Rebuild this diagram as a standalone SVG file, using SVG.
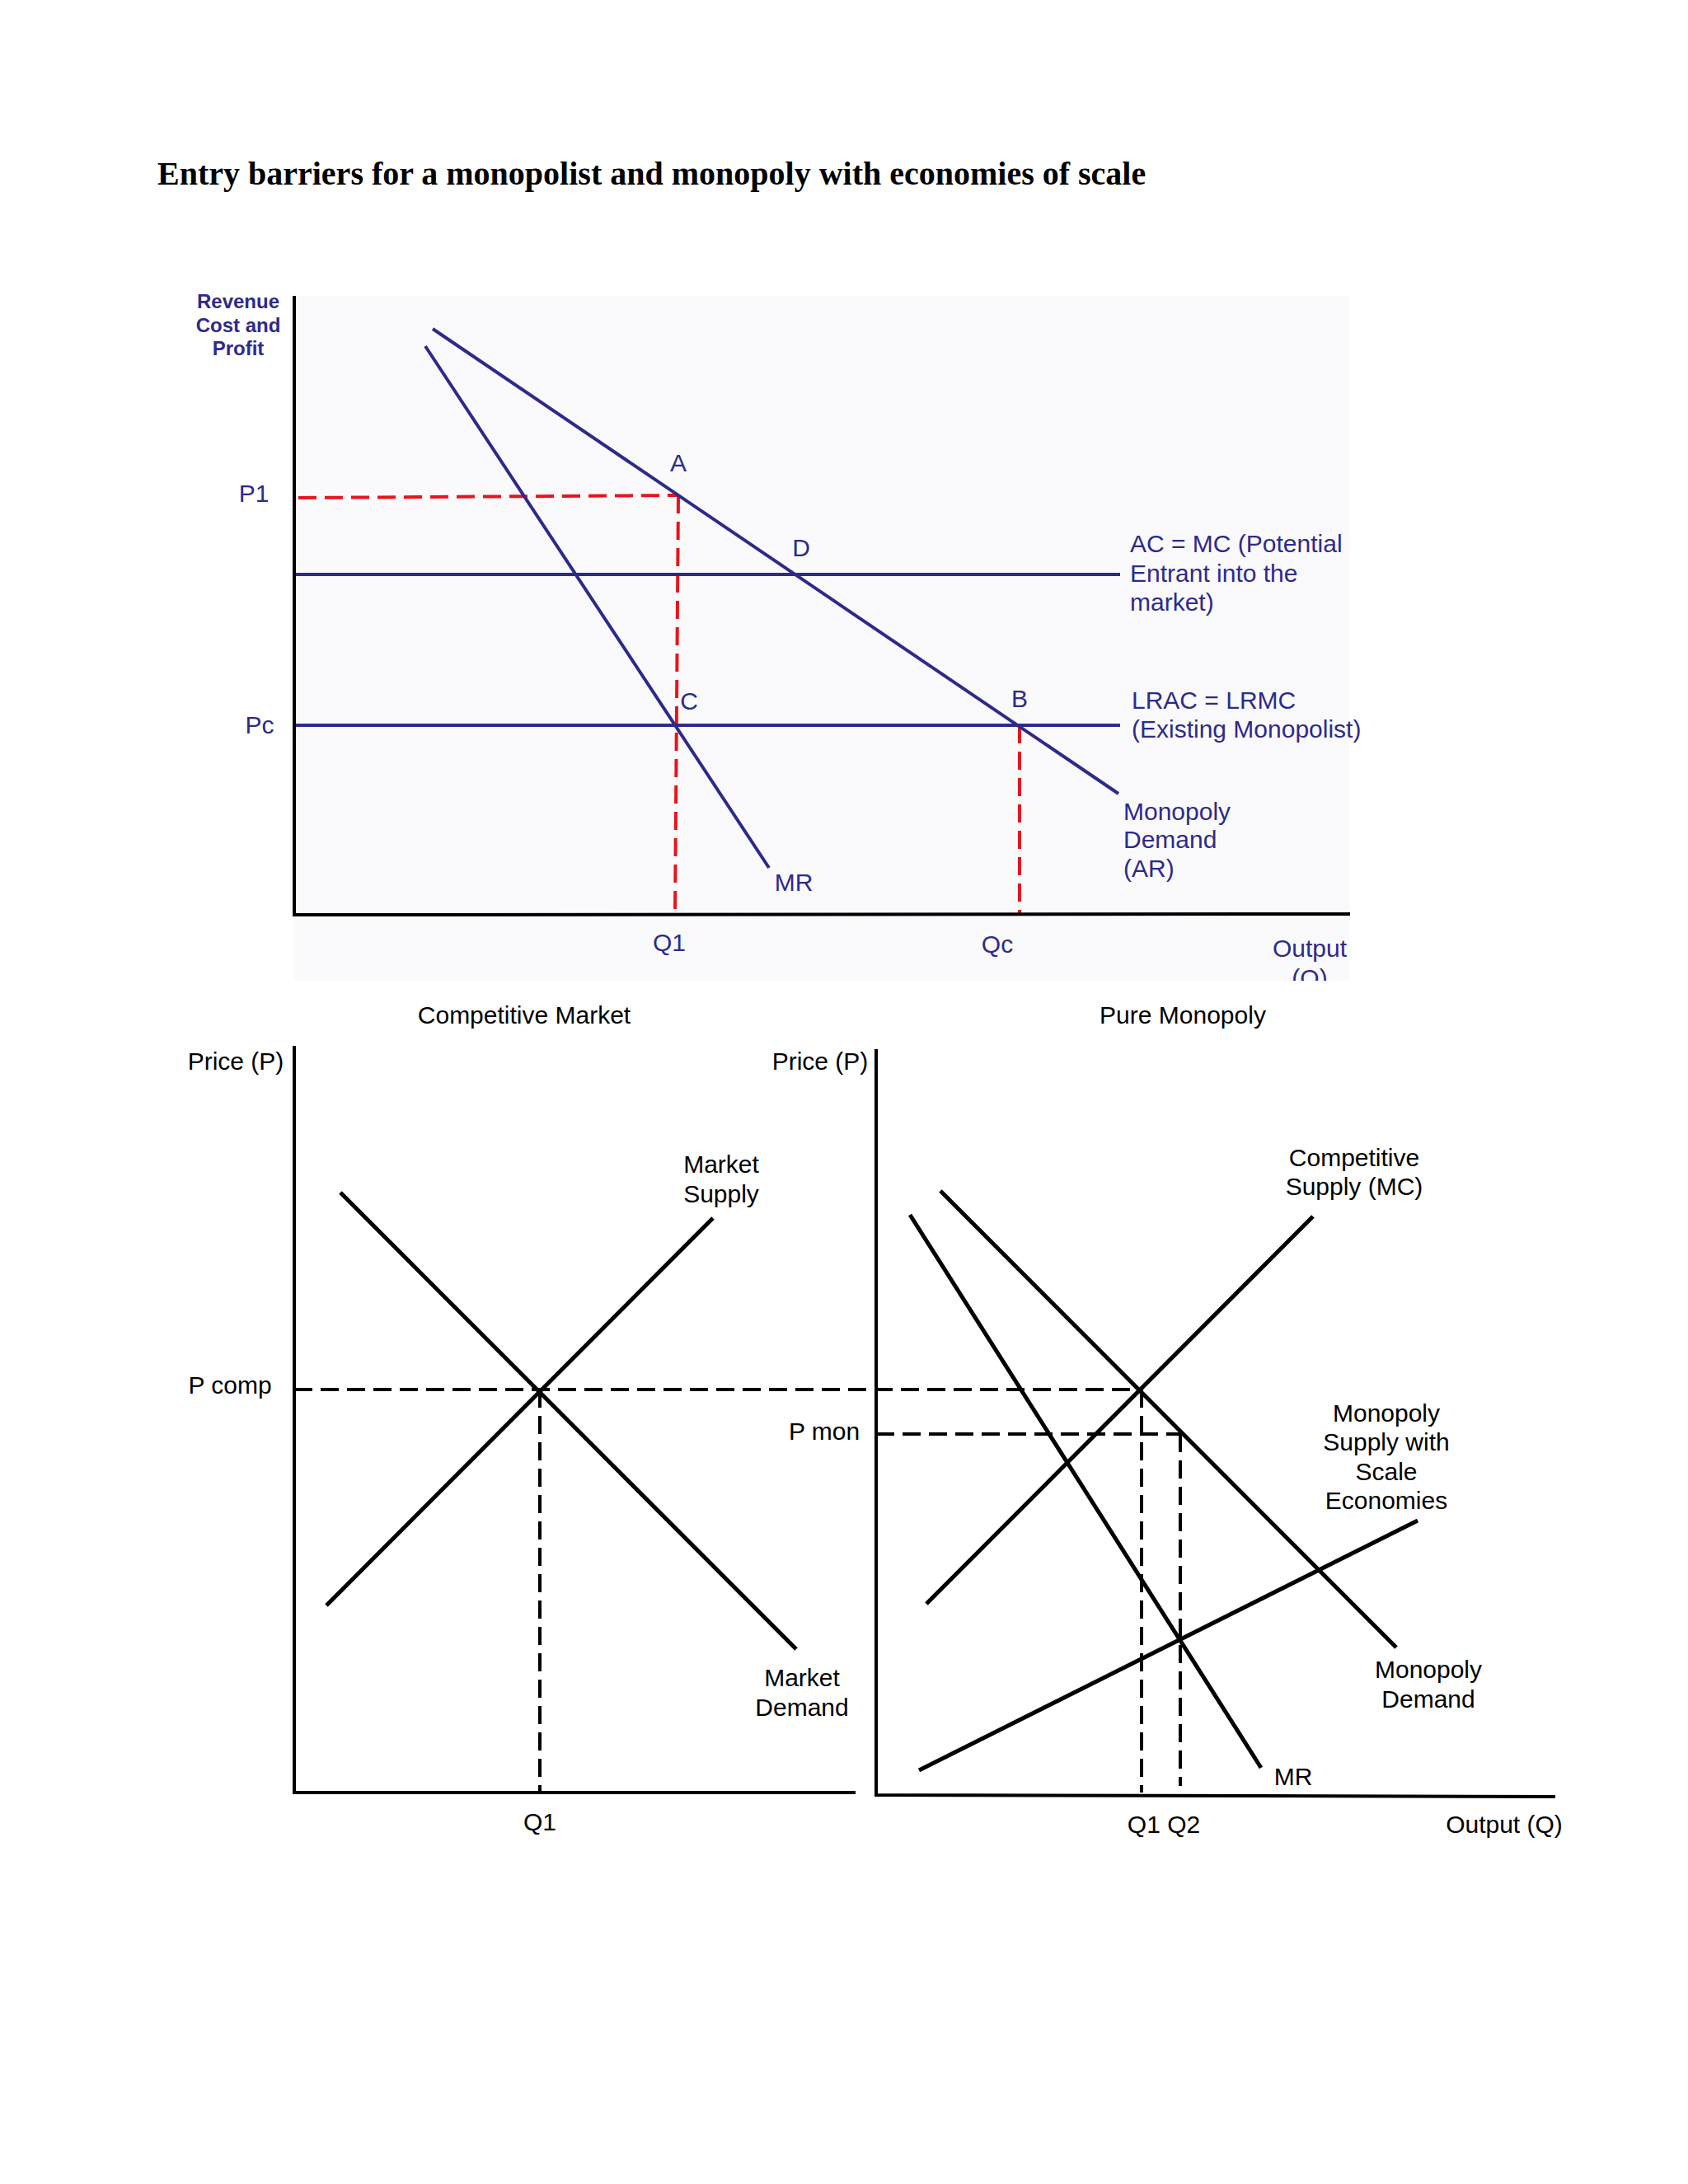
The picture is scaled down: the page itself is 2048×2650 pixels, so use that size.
<svg xmlns="http://www.w3.org/2000/svg" width="2048" height="2650" viewBox="0 0 2048 2650">
<style>
.b{stroke:#2e2a8c;stroke-width:4;fill:none}
.r{stroke:#e8141c;stroke-width:4;fill:none;stroke-dasharray:22,10}
.k{stroke:#000;stroke-width:5;fill:none}
.kd{stroke:#000;stroke-width:4;fill:none;stroke-dasharray:22,10}
.ax{stroke:#000;stroke-width:4;fill:none}
text{font-family:"Liberation Sans",Arial,sans-serif;font-size:30px}
.bt{fill:#2e2a8c}
.kt{fill:#000}
</style>
<rect width="2048" height="2650" fill="#fff"/>
<text x="191" y="224" style="font-family:'Liberation Serif','Times New Roman',serif;font-size:40px;font-weight:bold">Entry barriers for a monopolist and monopoly with economies of scale</text>
<g id="top-chart">
<rect x="357" y="359" width="1281" height="831" fill="#fafafc"/>
<g id="top-labels" class="bt" text-anchor="middle">
<text x="289" y="374" style="font-size:24px;font-weight:bold">Revenue</text>
<text x="289" y="403" style="font-size:24px;font-weight:bold">Cost and</text>
<text x="289" y="431" style="font-size:24px;font-weight:bold">Profit</text>
<text x="308" y="609">P1</text>
<text x="315" y="890">Pc</text>
<text x="823" y="572">A</text>
<text x="972" y="675">D</text>
<text x="836" y="861">C</text>
<text x="1237" y="858">B</text>
<text x="963" y="1081">MR</text>
<text x="812" y="1154">Q1</text>
<text x="1210" y="1156">Qc</text>
</g>
<g class="bt">
<text x="1371" y="670">AC = MC (Potential</text>
<text x="1371" y="706">Entrant into the</text>
<text x="1371" y="741">market)</text>
<text x="1373" y="860">LRAC = LRMC</text>
<text x="1373" y="895">(Existing Monopolist)</text>
<text x="1363" y="995">Monopoly</text>
<text x="1363" y="1029">Demand</text>
<text x="1363" y="1064">(AR)</text>
</g>
<clipPath id="cl"><rect x="0" y="0" width="2048" height="1190"/></clipPath>
<text class="bt" x="1589" y="1161" text-anchor="middle" clip-path="url(#cl)">Output</text>
<text class="bt" x="1589" y="1197" text-anchor="middle" clip-path="url(#cl)">(Q)</text>
</g>
<g id="connectors">
<path class="r" d="M362 604L823 601M823 601L819 1110M1237 880L1237 1110"/>
<path class="b" d="M525 399L1357 963M516 420L933 1053M357 697L1359 697M357 880L1359 880"/>
<path class="ax" d="M357 359L357 1110L1638 1109"/>
<path class="ax" d="M357 1269L357 2175L1038 2175M1063 1273L1063 2178L1887 2180"/>
<path class="kd" d="M357 1686L1385 1686M655 1686L655 2175M1063 1740L1432 1740M1385 1686L1385 2175M1432 1740L1432 2167"/>
<path class="k" d="M413 1447L966 2001M396 1948L865 1478M1141 1445L1694 1999M1124 1946L1593 1476M1104 1474L1530 2145M1115 2148L1720 1845"/>
</g>
<g id="bottom-labels" class="kt" text-anchor="middle">
<text x="636" y="1242">Competitive Market</text>
<text x="1435" y="1242">Pure Monopoly</text>
<text x="286" y="1298">Price (P)</text>
<text x="995" y="1298">Price (P)</text>
<text x="875" y="1423">Market</text>
<text x="875" y="1459">Supply</text>
<text x="973" y="2046">Market</text>
<text x="973" y="2082">Demand</text>
<text x="279" y="1691">P comp</text>
<text x="1000" y="1747">P mon</text>
<text x="655" y="2221">Q1</text>
<text x="1412" y="2224">Q1 Q2</text>
<text x="1825" y="2224">Output (Q)</text>
<text x="1569" y="2166">MR</text>
<text x="1733" y="2036">Monopoly</text>
<text x="1733" y="2072">Demand</text>
<text x="1682" y="1725">Monopoly</text>
<text x="1682" y="1760">Supply with</text>
<text x="1682" y="1796">Scale</text>
<text x="1682" y="1831">Economies</text>
<text x="1643" y="1415">Competitive</text>
<text x="1643" y="1450">Supply (MC)</text>
</g>
</svg>
